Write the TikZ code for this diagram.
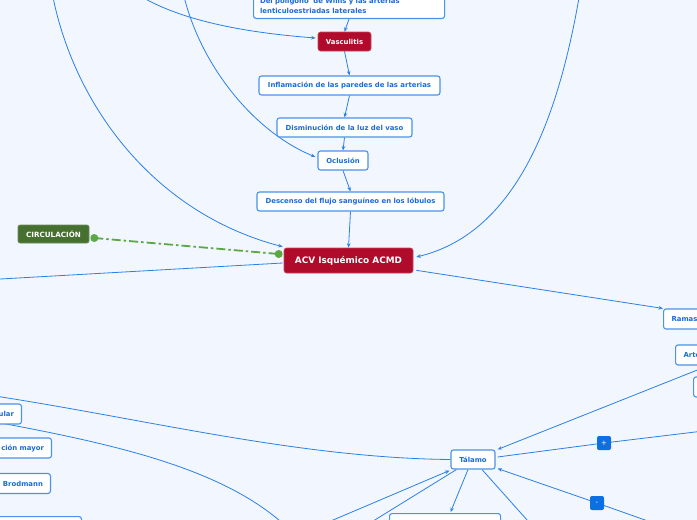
\documentclass[tikz,border=0pt]{standalone}
\usepackage{fontspec}
\setmainfont{DejaVu Sans}
\usetikzlibrary{arrows.meta}
\definecolor{bgc}{HTML}{F2F6FE}
\definecolor{txb}{HTML}{1A6CD6}
\definecolor{bdc}{HTML}{4A92EA}
\definecolor{lnc}{HTML}{2B80E6}
\definecolor{rdc}{HTML}{B00B2B}
\definecolor{gnc}{HTML}{45702F}
\definecolor{glc}{HTML}{5BA843}
\definecolor{sqc}{HTML}{0C6FE2}
\pgfdeclarelayer{backlayer}
\pgfdeclarelayer{edgelayer}
\pgfsetlayers{backlayer,edgelayer,main}
\begin{document}
\begin{tikzpicture}[x=1pt,y=-1pt,
  box/.style={draw=bdc, line width=1.1pt, fill=white, rounded corners=2.5pt, text=txb,
    font=\fontsize{6.9}{10}\selectfont\bfseries, inner xsep=6pt, inner ysep=0pt, minimum height=19pt},
  redbox/.style={fill=rdc, draw=rdc!75!white, line width=0.6pt, rounded corners=2.5pt, text=white,
    font=\fontsize{6.9}{10}\selectfont\bfseries, inner xsep=4pt, inner ysep=0pt, minimum height=19pt},
  greenbox/.style={fill=gnc, draw=gnc!80!white, line width=0.6pt, rounded corners=2pt, text=white,
    font=\fontsize{7.2}{10}\selectfont\bfseries, inner xsep=4pt, inner ysep=0pt, minimum height=18pt},
  sq/.style={fill=sqc, rounded corners=2pt, minimum size=14pt, inner sep=0pt, text=white,
    font=\fontsize{7}{8}\selectfont},
  conn/.style={draw=lnc, line width=0.8pt},
  arr/.style={conn, -{Stealth[length=4.5pt,width=3.6pt]}},
  gline/.style={draw=glc, line width=1.8pt, dash pattern=on 9pt off 3pt on 2.5pt off 3pt},
  gdot/.style={circle, fill=glc, inner sep=0pt, minimum size=8pt},
]
\begin{pgfonlayer}{backlayer}
\fill[bgc] (0,0) rectangle (697,520);
\end{pgfonlayer}
\useasboundingbox (0,0) rectangle (697,520);
\clip (0,0) rectangle (697,520);

% nodes
\node[box, anchor=south west, text width=178pt, align=left, inner xsep=6.5pt, inner ysep=5pt, minimum height=0pt] (willis) at (253,19) {Del polígono\ \ de Willis y las arterias\\lenticuloestriadas laterales};
\node[redbox, minimum width=53pt] (vasc) at (344.5,41.5) {Vasculitis};
\node[box, minimum width=181pt] (infl) at (349.5,85.5) {Inflamación de las paredes de las arterias};
\node[box, minimum width=135pt] (dism) at (344.5,127.5) {Disminución de la luz del vaso};
\node[box, minimum width=50pt] (ocl) at (343,160.5) {Oclusión};
\node[box, minimum width=187pt] (desc) at (350.5,201.5) {Descenso del flujo sanguíneo en los lóbulos};
\node[redbox, minimum width=129pt, minimum height=25pt, font=\fontsize{8.9}{10}\selectfont\bfseries] (acv) at (348.5,260.5) {ACV Isquémico ACMD};
\node[greenbox, minimum width=71pt] (circ) at (53.5,234) {CIRCULACIÓN};

\node[box, anchor=west, text width=50pt, align=left, inner xsep=8pt, minimum height=20pt] (ramas) at (663,319) {Ramas};
\node[box, anchor=west, text width=50pt, align=left, inner xsep=8pt, minimum height=20pt] (arte) at (675,355) {Arte};
\node[box, anchor=west, minimum width=40pt, minimum height=20pt] (r3) at (693,387) {};

\node[box, minimum width=44pt] (tal) at (473,459.5) {Tálamo};
\node[box, anchor=north west, minimum width=111pt, minimum height=20pt] (bot) at (389,513) {};

\node[box, anchor=east, text width=60pt, align=right, inner xsep=7.5pt, minimum height=20pt] (ular) at (22,414) {ular};
\node[box, anchor=east, text width=80pt, align=right, inner xsep=7.5pt, minimum height=20pt] (mayor) at (52,448) {ción mayor};
\node[box, anchor=east, text width=80pt, align=right, inner xsep=7.5pt, minimum height=20pt] (brod) at (51,483.5) {Brodmann};
\node[box, anchor=north east, minimum width=120pt, minimum height=20pt] (bl) at (82,516) {};

\node[sq] (plus) at (604,443) {+};
\node[sq] (minus) at (597,503) {-};

% free ends
\coordinate (t1) at (52,-8);
\coordinate (t2) at (142,-3);
\coordinate (t3) at (183,-8);
\coordinate (t4) at (580,-8);
\coordinate (lft) at (-5,279.3);
\coordinate (artelow) at (720,361);
\coordinate (pr) at (720,429);
\coordinate (mr) at (680,532.4);
\coordinate (tl) at (-5,396);
\coordinate (ul) at (-10,421);
\coordinate (ulend) at (292,532);
\coordinate (b1) at (309.6,530);
\coordinate (b2) at (358.6,530);
\coordinate (b4) at (536,530);

\begin{pgfonlayer}{edgelayer}
\draw[arr] (willis.south) -- (vasc.north);
\draw[arr] (vasc.south) -- (infl.north);
\draw[arr] (infl.south) -- (dism.north);
\draw[arr] (dism.south) -- (ocl.north);
\draw[arr] (ocl.south) -- (desc.north);
\draw[arr] (desc.south) -- (acv.north);

\draw[arr] (t1) .. controls (72,100) and (150,212) .. ([xshift=-1pt,yshift=1pt]acv.north west);
\draw[arr] (t2) .. controls (185,22) and (250,33) .. ([xshift=-2pt,yshift=3.5pt]vasc.west);
\draw[arr] (t3) .. controls (198,60) and (250,130) .. ([xshift=-2pt,yshift=3.5pt]ocl.west);
\draw[arr] (t4) .. controls (560,110) and (520,232) .. ([xshift=3pt,yshift=3.5pt]acv.east);

\draw[conn] ([xshift=-1pt,yshift=-2.5pt]acv.west) -- (lft);
\draw[arr] ([xshift=3pt,yshift=3pt]acv.south east) -- (ramas.north west);

\draw[gline] ([xshift=5pt,yshift=-4pt]circ.east) -- ([xshift=-5pt,yshift=6.5pt]acv.west);

\draw[arr] (artelow) -- ([xshift=2pt]tal.north east);
\draw[conn] ([xshift=2pt,yshift=2.5pt]tal.east) -- (plus.center) -- (pr);
\draw[arr] (mr) -- (minus.center) -- ([xshift=2pt,yshift=1pt]tal.south east);

\draw[conn] (tl) .. controls (150,420) and (300,458) .. (tal.west);
\draw[conn] (ul) .. controls (120,445) and (230,470) .. (ulend);

\draw[arr] (b1) -- ([xshift=-1pt,yshift=-1pt]tal.south west);
\draw[conn] ([xshift=6pt]tal.south west) -- (b2);
\draw[arr] ([xshift=-5pt]tal.south) -- ([xshift=5.5pt,yshift=1pt]bot.north);
\draw[conn] ([xshift=9pt]tal.south) -- (b4);
\end{pgfonlayer}

\node[gdot] at ([xshift=5pt,yshift=-4pt]circ.east) {};
\node[gdot] at ([xshift=-5pt,yshift=6.5pt]acv.west) {};
\end{tikzpicture}
\end{document}
